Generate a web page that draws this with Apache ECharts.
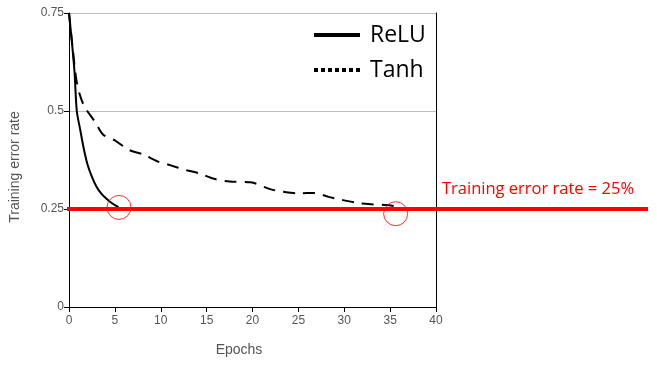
<!DOCTYPE html>
<html><head><meta charset="utf-8">
<script src="https://cdn.jsdelivr.net/npm/echarts@6/dist/echarts.min.js"></script>
<style>html,body{margin:0;padding:0;background:#fff}#c{width:657px;height:369px}</style>
</head><body><div id="c"></div>
<script>
// ---- data ----
const reluEpochs = [0, 0.3, 0.6, 0.85, 1.2, 1.6, 2.0, 2.5, 3.0, 3.5, 4.0, 4.5, 5.0, 5.4];
const reluError  = [0.75, 0.68, 0.60, 0.50, 0.455, 0.405, 0.365, 0.332, 0.307, 0.29, 0.278, 0.268, 0.26, 0.255];
const tanhEpochs = [0, 0.4, 0.8, 1.2, 1.7, 2.3, 2.9, 3.7, 5.0, 6.6, 8.0, 9.7, 11.0, 12.8, 14.2, 15.8, 17.5, 19.8, 22.0, 23.4, 25.1, 26.7, 28.3, 29.8, 31.6, 33.0, 34.6, 35.5];
const tanhError  = [0.75, 0.66, 0.58, 0.54, 0.51, 0.49, 0.47, 0.44, 0.425, 0.40, 0.39, 0.371, 0.362, 0.349, 0.341, 0.327, 0.32, 0.318, 0.30, 0.294, 0.29, 0.291, 0.281, 0.273, 0.265, 0.262, 0.26, 0.257];
const targetRate = 0.25;
const circleEpochs = [5.45, 35.6];
const circleRates  = [0.254, 0.238];
const seriesNames = ['ReLU', 'Tanh'];
const targetLabel = 'Training error rate = 25%';
const xName = 'Epochs';
const yName = 'Training error rate';

const zip = (a, b) => a.map((v, i) => [v, b[i]]);

const chart = echarts.init(document.getElementById('c'));
const axisFont = {fontFamily: 'Liberation Sans', fontSize: 12, color: '#555'};
chart.setOption({
  animation: false,
  backgroundColor: '#fff',
  grid: [
    {left: 67, right: 221, top: 13, bottom: 62},
    {left: 67, right: 9, top: 13, bottom: 62}
  ],
  xAxis: [
    {type: 'value', gridIndex: 0, min: 0, max: 40, interval: 5,
     name: xName, nameLocation: 'middle', nameGap: 36,
     nameTextStyle: {fontFamily: 'Liberation Sans', fontSize: 14, color: '#555', padding: [0, 27, 0, 0]},
     axisLine: {show: true, lineStyle: {color: '#000', width: 1}},
     axisTick: {show: true, length: 5, lineStyle: {color: '#000'}},
     axisLabel: Object.assign({margin: 8}, axisFont),
     splitLine: {show: false}},
    {type: 'value', gridIndex: 1, min: 0, max: 1, show: false}
  ],
  yAxis: [
    {type: 'value', gridIndex: 0, min: 0, max: 0.75, interval: 0.25,
     name: yName, nameLocation: 'middle', nameGap: 47, nameRotate: 90,
     nameTextStyle: {fontFamily: 'Liberation Sans', fontSize: 14, color: '#555', padding: [0, 14, 0, 0]},
     axisLine: {show: true, lineStyle: {color: '#000', width: 1}},
     axisTick: {show: true, length: 5, lineStyle: {color: '#000'}},
     axisLabel: Object.assign({margin: 5}, axisFont),
     splitLine: {show: true, lineStyle: {color: '#bdbdbd', width: 1}}},
    {type: 'value', gridIndex: 0, min: 0, max: 0.75, position: 'right',
     axisLine: {show: true, lineStyle: {color: '#000', width: 1}},
     axisTick: {show: false}, axisLabel: {show: false}, splitLine: {show: false}},
    {type: 'value', gridIndex: 1, min: 0, max: 0.75, show: false}
  ],
  legend: {
    orient: 'vertical', left: 312, top: 23, padding: 0,
    itemWidth: 46, itemHeight: 24, itemGap: 11,
    textStyle: {fontFamily: 'Open Sans', fontSize: 23, color: '#000', lineHeight: 24, padding: [0, 0, 0, 5]},
    data: [
      {name: seriesNames[0], itemStyle: {opacity: 0}, lineStyle: {width: 4, type: 'solid', color: '#000'}},
      {name: seriesNames[1], itemStyle: {opacity: 0}, lineStyle: {width: 4, type: [4, 3], color: '#000'}}
    ]
  },
  series: [
    {name: seriesNames[0], type: 'line', xAxisIndex: 0, yAxisIndex: 0, symbol: 'none', smooth: 0.3,
     data: zip(reluEpochs, reluError), lineStyle: {color: '#000', width: 2}, itemStyle: {color: '#000'}, z: 3},
    {name: seriesNames[1], type: 'line', xAxisIndex: 0, yAxisIndex: 0, symbol: 'none', smooth: 0.3,
     data: zip(tanhEpochs, tanhError), lineStyle: {color: '#000', width: 2, type: [12, 8]}, itemStyle: {color: '#000'}, z: 3},
    {name: 'target', type: 'line', xAxisIndex: 1, yAxisIndex: 2, symbol: 'none',
     data: [[0, targetRate], [1, targetRate]], lineStyle: {color: '#ff0000', width: 4}, z: 4, silent: true},
    {name: 'circles', type: 'scatter', xAxisIndex: 0, yAxisIndex: 0, symbol: 'circle', symbolSize: 24,
     data: zip(circleEpochs, circleRates),
     itemStyle: {color: 'rgba(0,0,0,0)', borderColor: '#ff0000', borderWidth: 1}, z: 5}
  ],
  graphic: [
    {type: 'text', left: 442, top: 181,
     style: {text: targetLabel, fill: '#ff0000', font: '16.5px "Open Sans"'}}
  ]
});
</script></body></html>
